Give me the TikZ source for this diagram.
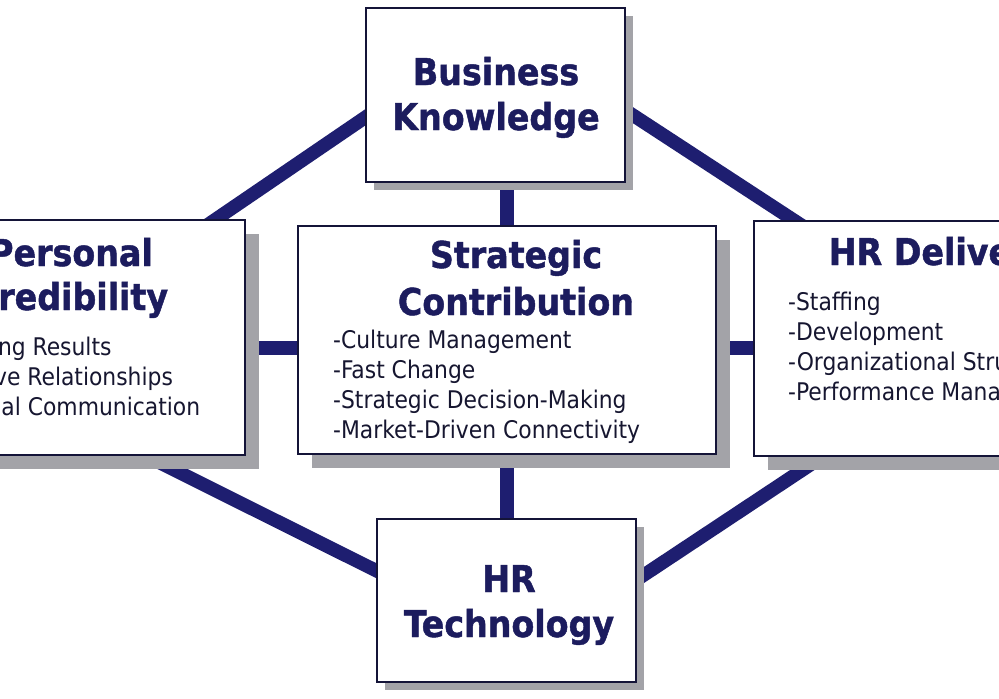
\documentclass[tikz,border=0pt]{standalone}
\usepackage{fontspec}
\setmainfont{DejaVu Sans Condensed}[BoldFeatures={FakeBold=1.2}]
\usetikzlibrary{calc,shadows,backgrounds}
\definecolor{navyline}{RGB}{30,30,112}
\definecolor{navytext}{RGB}{28,28,94}
\definecolor{bodytext}{RGB}{22,22,48}
\definecolor{boxedge}{RGB}{20,20,56}
\definecolor{shadowgray}{RGB}{163,163,168}
\tikzset{
  cbox/.style={draw=boxedge, line width=2pt, fill=white, inner sep=0pt, outer sep=0pt, rectangle},
  smallshadow/.style={copy shadow={shadow xshift=8pt, shadow yshift=-8pt, fill=shadowgray, draw=none}},
  bigshadow/.style={copy shadow={shadow xshift=14pt, shadow yshift=-14pt, fill=shadowgray, draw=none}},
  ttl/.style={font=\bfseries\fontsize{37}{37}\selectfont, text=navytext, inner sep=0pt, anchor=base},
  itm/.style={font=\fontsize{24.3}{24}\selectfont, text=bodytext, inner sep=0pt, anchor=base west},
  link/.style={draw=navyline, line width=13.5pt}
}
\begin{document}
\begin{tikzpicture}[x=1pt, y=-1pt]
\useasboundingbox (0,0) rectangle (999,699);
\clip (0,0) rectangle (999,699);
% boxes
\node[cbox, smallshadow, minimum width=259pt, minimum height=174pt] (bk) at (495.5,95) {};
\node[cbox, bigshadow, minimum width=418pt, minimum height=228pt] (sc) at (507,340) {};
\node[cbox, bigshadow, minimum width=361pt, minimum height=235pt] (pc) at (64,337.5) {};
\node[cbox, bigshadow, minimum width=361pt, minimum height=235pt] (hd) at (934.5,338.5) {};
\node[cbox, smallshadow, minimum width=259pt, minimum height=163pt] (hrt) at (506.5,600.5) {};
% connectors behind
\begin{scope}[on background layer]
\draw[link] ($(pc.north east)+(-65,24)$) -- ($(bk.west)+(35,-2)$);
\draw[link] ($(bk.east)+(-26,-2)$) -- ($(hd.north west)+(67,17)$);
\draw[link] ($(pc.south east)+(-105,-2.4)$) -- ($(hrt.west)+(24,-17.5)$);
\draw[link] ($(hd.south west)+(77,-5)$) -- ($(hrt.east)+(-17,-9)$);
\draw[link] (sc.north |- bk.south) -- (sc.north);
\draw[link] (sc.south) -- (sc.south |- hrt.north);
\draw[link] ($(pc.east)+(0,10.5)$) -- ($(sc.west)+(0,8)$);
\draw[link] ($(sc.east)+(0,8)$) -- ($(hd.west)+(0,9.5)$);
\end{scope}
% Business Knowledge
\node[ttl] (bk1) at (496,85) {Business};
\node[ttl] (bk2) at (496,130) {Knowledge};
% Strategic Contribution
\node[ttl] (sc1) at (516,268) {Strategic};
\node[ttl] (sc2) at (516,315) {Contribution};
\node[itm] (sci1) at (333,348) {-Culture Management};
\node[itm] (sci2) at (333,378) {-Fast Change};
\node[itm] (sci3) at (333,408) {-Strategic Decision-Making};
\node[itm] (sci4) at (333,438) {-Market-Driven Connectivity};
% Personal Credibility
\node[ttl] (pc1) at (71,266) {Personal};
\node[ttl] (pc2) at (71,310) {Credibility};
\node[itm] (pci1) at (-88.5,355) {-Achieving Results};
\node[itm] (pci2) at (-83,385) {-Effective Relationships};
\node[itm] (pci3) at (-80,415) {-Personal Communication};
% HR Delivery
\node[ttl] (hd1) at (939,265) {HR Delivery};
\node[itm] (hdi1) at (788,310) {-Staffing};
\node[itm] (hdi2) at (788,340) {-Development};
\node[itm] (hdi3) at (788,370) {-Organizational Structure};
\node[itm] (hdi4) at (788,400) {-Performance Management};
% HR Technology
\node[ttl] (hrt1) at (509,592) {HR};
\node[ttl] (hrt2) at (509,637) {Technology};
\end{tikzpicture}
\end{document}
